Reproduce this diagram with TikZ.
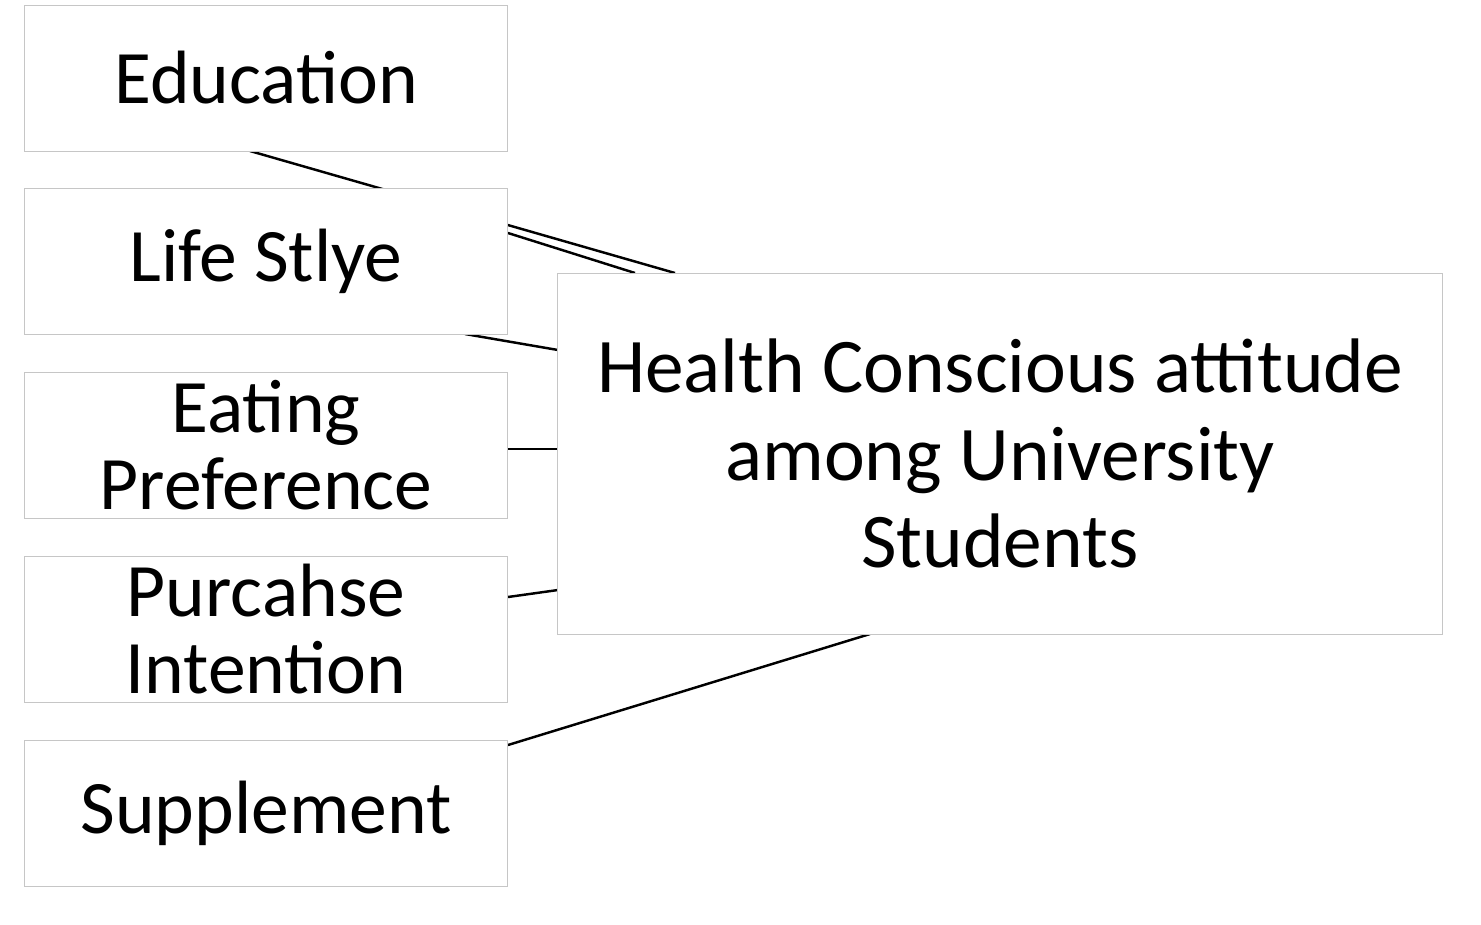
\documentclass[tikz,border=0pt]{standalone}
\usepackage{fontspec}
\setmainfont{Carlito}
\usetikzlibrary{positioning}
\begin{document}
\begin{tikzpicture}[
    x=0.02cm, y=-0.02cm,
    factor/.style={rectangle, draw=gray!45, fill=white, minimum width=9.66cm, minimum height=2.92cm, align=center, inner sep=0pt, font=\fontsize{43}{44}\selectfont},
    target/.style={rectangle, draw=gray!45, fill=white, minimum width=17.7cm, minimum height=7.22cm, align=center, inner sep=0pt, font=\fontsize{44}{50}\selectfont},
    link/.style={line width=1.4pt}
  ]
\useasboundingbox (0,0) rectangle (1481,924);

% Coordinates for connector ends
\coordinate (eduA) at (250,151);
\coordinate (eduB) at (675,273);
\coordinate (lifeA) at (508,233);
\coordinate (lifeB) at (635,273);
\coordinate (lifeC) at (465,334);
\coordinate (lifeD) at (558,350);
\coordinate (eatA) at (508,449);
\coordinate (eatB) at (558,449);
\coordinate (purA) at (508,597);
\coordinate (purB) at (558,590);
\coordinate (supA) at (508,745);
\coordinate (supB) at (870,634);

% Connectors
\draw[link] (eduA) -- (eduB);
\draw[link] (lifeA) -- (lifeB);
\draw[link] (lifeC) -- (lifeD);
\draw[link] (eatA) -- (eatB);
\draw[link] (purA) -- (purB);
\draw[link] (supA) -- (supB);

% Nodes
\node[factor] (edu) at (266,78) {Education};
\node[factor] (life) at (266,261) {Life Stlye};
\node[factor] (eat) at (266,445) {Eating\\Preference};
\node[factor] (pur) at (266,629) {Purcahse\\Intention};
\node[factor] (sup) at (266,813) {Supplement};
\node[target] (health) at (1000,453.5) {Health Conscious attitude\\among University\\Students};

\end{tikzpicture}
\end{document}
